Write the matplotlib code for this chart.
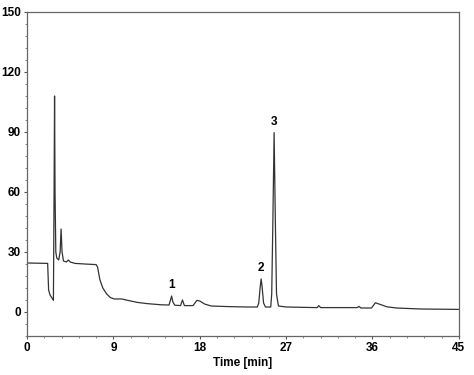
import matplotlib
matplotlib.use("Agg")
import matplotlib.pyplot as plt
from matplotlib.ticker import MultipleLocator

plt.rcParams['font.family'] = ['Liberation Sans', 'DejaVu Sans']

# chromatogram trace (time in min, signal)
time_min = [0.0, 2.15, 2.25, 2.4, 2.6, 2.75, 2.82, 2.87, 2.92, 3.0, 3.1, 3.3,
            3.45, 3.55, 3.65, 3.8, 4.1, 4.3, 4.5, 5.0, 6.0, 7.2, 7.35, 7.6,
            7.9, 8.3, 8.7, 9.1, 9.9, 10.5, 11.5, 12.5, 14.0, 14.8, 14.95,
            15.07, 15.2, 15.4, 16.0, 16.2, 16.4, 17.3, 17.7, 18.0, 18.5,
            19.2, 21.0, 23.0, 24.0, 24.15, 24.3, 24.4, 24.5, 24.65, 24.85,
            25.4, 25.5, 25.62, 25.75, 25.88, 26.0, 26.2, 27.0, 29.0, 30.25,
            30.4, 30.6, 34.4, 34.6, 34.8, 35.9, 36.3, 36.8, 37.5, 38.5, 41.0,
            45.0]
signal = [24.5, 24.3, 11.0, 8.5, 7.0, 5.8, 60.0, 108.0, 60.0, 30.0, 27.0, 26.0,
          30.0, 41.5, 30.0, 25.5, 25.0, 26.0, 25.0, 24.3, 24.0, 23.7, 22.5, 16.0,
          12.0, 9.0, 7.2, 6.5, 6.5, 5.8, 4.8, 4.2, 3.6, 3.5, 6.0,
          8.0, 5.0, 3.4, 3.2, 6.0, 3.2, 3.2, 5.8, 5.5, 4.0,
          3.0, 2.7, 2.5, 2.5, 4.5, 12.5, 16.5, 12.5, 4.5, 2.5,
          2.5, 9.0, 45.0, 89.7, 45.0, 9.0, 3.0, 2.5, 2.3, 2.2,
          3.2, 2.2, 2.2, 2.8, 2.0, 2.0, 4.6, 3.8, 2.6, 2.0, 1.5,
          1.3]

# peak labels
peak_names = ['1', '2', '3']
peak_times = [15.07, 24.4, 25.75]
peak_heights = [8.0, 16.5, 89.7]

x_ticks = [0, 9, 18, 27, 36, 45]
y_ticks = [0, 30, 60, 90, 120, 150]

fig = plt.figure(figsize=(4.74, 3.75), dpi=100)
ax = fig.add_axes([0.057, 0.104, 0.911, 0.864])

ax.plot(time_min, signal, color='#333333', lw=0.9)

for name, t, h in zip(peak_names, peak_times, peak_heights):
    ax.text(t, h + 2.5, name, ha='center', va='bottom', fontsize=8.5, fontweight='bold')

ax.set_xlim(0, 45)
ax.set_ylim(-12, 150)
ax.set_xticks(x_ticks)
ax.set_yticks(y_ticks)
ax.xaxis.set_minor_locator(MultipleLocator(1.8))
ax.yaxis.set_minor_locator(MultipleLocator(6))
ax.tick_params(which='major', length=2.5, width=0.8, color='#555555', labelsize=8.5, pad=2)
ax.tick_params(which='minor', length=1.5, width=0.6, color='#777777')
for lbl in ax.get_xticklabels() + ax.get_yticklabels():
    lbl.set_fontweight('bold')

for s in ax.spines.values():
    s.set_color('#666666')
    s.set_linewidth(0.9)

ax.set_xlabel('Time [min]', fontsize=8.5, fontweight='bold', labelpad=2)

fig.savefig('out.png', dpi=100)
